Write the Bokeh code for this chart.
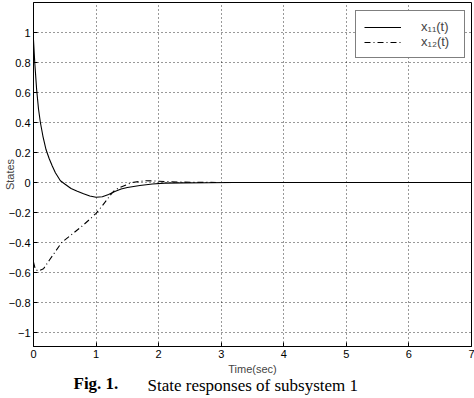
from bokeh.plotting import figure
from bokeh.models import Range1d, FixedTicker, Legend, LegendItem, Title
from bokeh.embed import file_html
from bokeh.resources import INLINE

# ---- data ----
t_x11 = [0, 0.02, 0.05, 0.08, 0.11, 0.15, 0.2, 0.25, 0.3, 0.35, 0.43, 0.5, 0.6, 0.7,
         0.8, 0.9, 1.0, 1.1, 1.2, 1.3, 1.4, 1.5, 1.7, 1.9, 2.1, 2.4, 2.8, 3.2, 4, 5, 6, 7]
x11 = [0.95, 0.80, 0.62, 0.49, 0.40, 0.31, 0.22, 0.16, 0.11, 0.065, 0.012, -0.01, -0.04,
       -0.058, -0.075, -0.09, -0.098, -0.095, -0.08, -0.06, -0.043, -0.033, -0.02, -0.01,
       -0.004, -0.002, -0.001, 0.0, 0.0, 0.0, 0.0, 0.0]

t_x12 = [0, 0.03, 0.08, 0.16, 0.25, 0.35, 0.45, 0.6, 0.75, 0.9, 1.0, 1.1, 1.2, 1.25, 1.3,
         1.4, 1.5, 1.6, 1.8, 2.0, 2.3, 2.7, 3.2, 4, 5, 6, 7]
x12 = [-0.53, -0.58, -0.59, -0.575, -0.52, -0.46, -0.40, -0.35, -0.30, -0.245, -0.205,
       -0.155, -0.10, -0.072, -0.05, -0.03, -0.012, 0.002, 0.012, 0.009, 0.003, 0.001,
       0.0, 0.0, 0.0, 0.0, 0.0]

x_ticks = [0, 1, 2, 3, 4, 5, 6, 7]
y_ticks = [-1, -0.8, -0.6, -0.4, -0.2, 0, 0.2, 0.4, 0.6, 0.8, 1]
y_tick_labels = ["\u22121", "\u22120.8", "\u22120.6", "\u22120.4", "\u22120.2", "0",
                 "0.2", "0.4", "0.6", "0.8", "1"]
series_labels = ["x\u2081\u2081(t)", "x\u2081\u2082(t)"]
x_label = "Time(sec)"
y_label = "States"
caption_bold = "Fig. 1."
caption_rest = "State responses of subsystem 1"

FONT = "Liberation Sans"

p = figure(width=474, height=398, x_range=Range1d(0, 7), y_range=Range1d(-1.093, 1.2),
           output_backend="svg", toolbar_location=None,
           min_border_left=33, min_border_right=3, min_border_top=2, min_border_bottom=52)
p.background_fill_color = "white"
p.border_fill_color = "white"
p.outline_line_color = "black"
p.outline_line_width = 1

for ax in (p.xaxis[0], p.yaxis[0]):
    ax.axis_line_color = "black"
    ax.major_tick_line_color = "black"
    ax.major_tick_in = 4
    ax.major_tick_out = 0
    ax.minor_tick_line_color = None
    ax.major_label_text_font = FONT
    ax.major_label_text_font_size = "11px"
    ax.major_label_text_color = "black"
    ax.major_label_standoff = 3

p.xaxis.ticker = FixedTicker(ticks=x_ticks)
p.yaxis.ticker = FixedTicker(ticks=y_ticks)
p.yaxis.major_label_overrides = dict(zip(y_ticks, y_tick_labels))
p.xaxis.axis_label = x_label
p.xaxis.axis_label_text_font = FONT
p.xaxis.axis_label_text_font_size = "11px"
p.xaxis.axis_label_text_font_style = "normal"
p.xaxis.axis_label_standoff = 2
p.yaxis.axis_label = y_label
p.yaxis.axis_label_text_font = FONT
p.yaxis.axis_label_text_font_size = "11px"
p.yaxis.axis_label_text_font_style = "normal"
p.yaxis.axis_label_standoff = -10

for g in (p.xgrid[0], p.ygrid[0]):
    g.grid_line_color = "black"
    g.grid_line_dash = "1 3"
    g.grid_line_width = 1
    g.grid_line_alpha = 0.8
p.xgrid.ticker = FixedTicker(ticks=x_ticks)
p.ygrid.ticker = FixedTicker(ticks=y_ticks)

r1 = p.line(t_x11, x11, line_color="black", line_width=1.1)
r2 = p.line(t_x12, x12, line_color="black", line_width=1.1, line_dash="6 3 1 3")

legend = Legend(items=[LegendItem(label=series_labels[0], renderers=[r1]),
                       LegendItem(label=series_labels[1], renderers=[r2])],
                location=(322, 288), orientation="vertical")
legend.border_line_color = "black"
legend.border_line_width = 1
legend.background_fill_color = "white"
legend.background_fill_alpha = 1
legend.padding = 8
legend.margin = 0
legend.spacing = 0
legend.glyph_width = 37
legend.glyph_height = 14
legend.label_height = 14
legend.label_width = 35
legend.label_standoff = 20
legend.label_text_font = FONT
legend.label_text_font_size = "13px"
p.add_layout(legend)

# caption on one row: bold part with a negative standoff so both share the row
t_bold = Title(text=caption_bold, align="left", offset=40, vertical_align="top",
               text_font="Liberation Serif", text_font_size="17px",
               text_font_style="bold", text_color="black", standoff=-8)
t_rest = Title(text=caption_rest, align="left", offset=114, vertical_align="top",
               text_font="Liberation Serif", text_font_size="17px",
               text_font_style="normal", text_color="black", standoff=-30)
p.add_layout(t_bold, "below")
p.add_layout(t_rest, "below")

open("out.html", "w").write(file_html(p, INLINE))
